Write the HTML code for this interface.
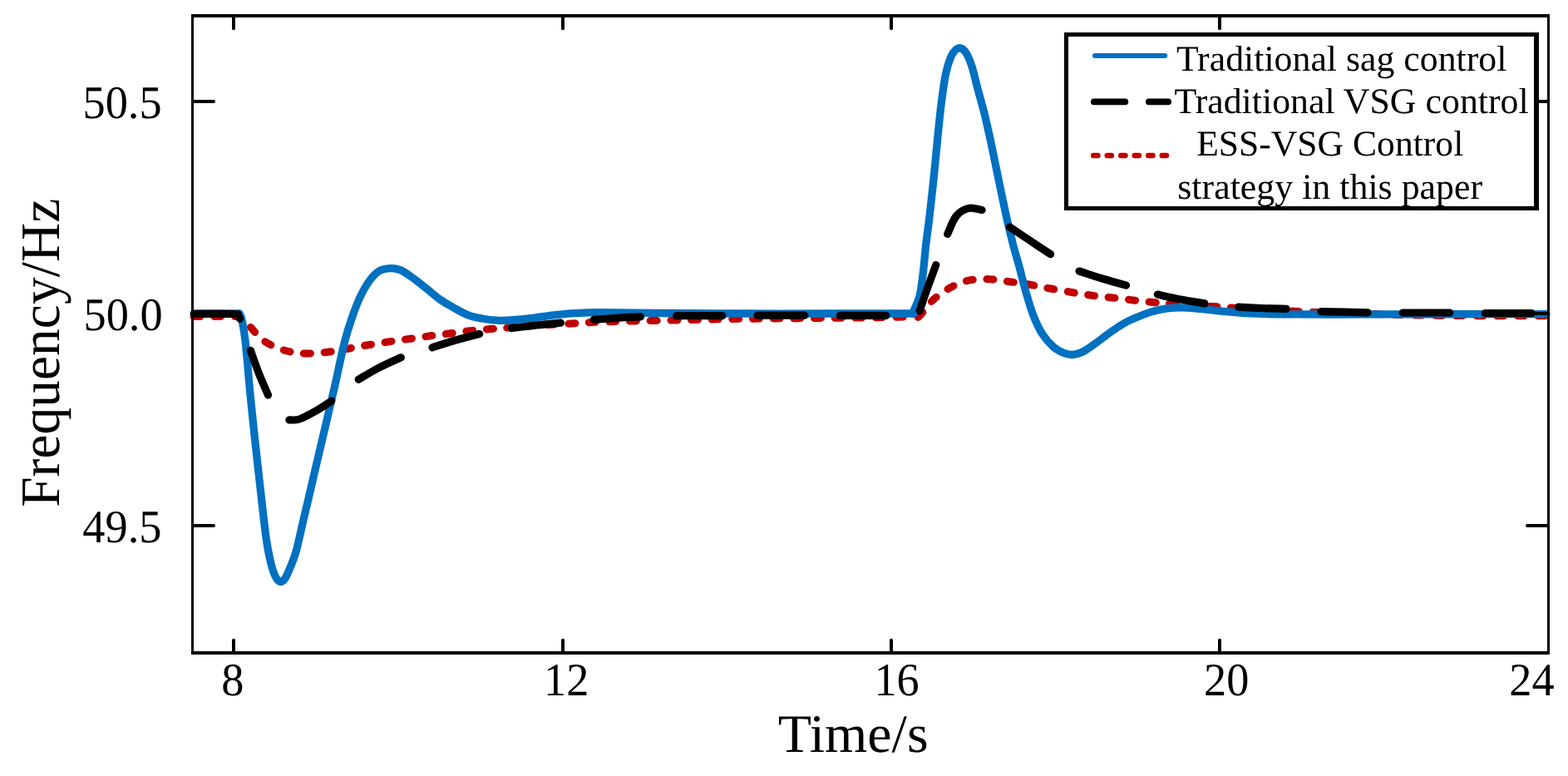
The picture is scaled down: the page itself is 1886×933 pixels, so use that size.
<!DOCTYPE html>
<html lang="en">
<head>
<meta charset="utf-8">
<title>Frequency response comparison</title>
<style>
html,body{margin:0;padding:0;background:#fff;}
body{width:1886px;height:933px;overflow:hidden;}
svg{display:block;}
text{font-family:"Liberation Serif","Times New Roman",serif;fill:#000;text-rendering:geometricPrecision;}
.tick{font-size:55px;}
.axl{font-size:65px;}
.leg{font-size:43.4px;}
</style>
</head>
<body>
<svg width="1886" height="933" viewBox="0 0 1886 933">
<rect x="0" y="0" width="1886" height="933" fill="#ffffff"/>

<g fill="none" stroke-linecap="round" stroke-linejoin="round">
<path d="M233.0 380.5 C237.5 380.5 251.7 380.5 260.0 380.5 C268.3 380.5 277.7 380.2 283.0 380.5 C288.3 380.8 288.8 380.2 292.0 382.5 C295.2 384.8 298.2 389.8 302.0 394.0 C305.8 398.2 309.8 404.0 315.0 408.0 C320.2 412.0 326.8 415.4 333.0 418.0 C339.2 420.6 345.5 422.3 352.0 423.5 C358.5 424.7 364.0 425.2 372.0 425.0 C380.0 424.8 391.8 423.6 400.0 422.5 C408.2 421.4 414.2 420.0 421.4 418.7 C428.5 417.4 435.3 416.1 442.9 414.8 C450.5 413.5 458.8 412.2 466.9 411.0 C475.0 409.8 483.5 408.7 491.8 407.5 C500.1 406.3 508.5 405.1 516.6 404.0 C524.7 402.9 532.5 402.1 540.6 401.0 C548.8 399.9 557.4 398.6 565.5 397.7 C573.6 396.8 581.6 396.2 589.5 395.6 C597.4 395.0 602.6 394.7 612.7 393.9 C622.8 393.1 637.5 391.8 650.0 391.0 C662.5 390.2 677.7 389.6 688.0 389.0 C698.3 388.4 700.0 388.0 712.0 387.5 C724.0 387.0 742.0 386.4 760.0 386.0 C778.0 385.6 800.0 385.2 820.0 384.8 C840.0 384.4 860.0 383.8 880.0 383.5 C900.0 383.2 920.0 383.0 940.0 382.8 C960.0 382.6 981.7 382.5 1000.0 382.3 C1018.3 382.1 1035.0 382.0 1050.0 381.8 C1065.0 381.6 1081.7 381.1 1090.0 381.0 C1098.3 380.9 1097.3 381.2 1100.0 381.0" stroke="#c00000" stroke-width="9" stroke-dasharray="8 16.65" stroke-dashoffset="0" stroke-linecap="round"/>
<path d="M1100.0 381.0 C1102.7 380.8 1102.3 383.4 1106.0 380.0 C1109.7 376.6 1116.0 366.4 1122.2 360.7 C1128.4 355.0 1136.1 349.6 1143.2 345.7 C1150.3 341.8 1157.2 338.9 1165.0 337.2 C1172.8 335.5 1181.5 335.4 1189.7 335.7 C1197.9 335.9 1205.9 337.6 1214.3 338.7 C1222.7 339.8 1232.0 341.1 1240.0 342.5 C1248.0 343.9 1254.5 345.4 1262.5 346.8 C1270.5 348.2 1279.5 349.8 1287.7 351.2 C1295.9 352.6 1303.7 353.9 1311.7 355.0 C1319.7 356.1 1327.6 356.8 1335.7 357.7 C1343.8 358.6 1352.1 359.7 1360.3 360.6 C1368.5 361.5 1376.8 362.4 1385.0 363.2 C1393.2 364.0 1397.5 364.6 1409.5 365.5 C1421.5 366.4 1444.8 367.6 1456.7 368.3 C1468.6 369.1 1470.2 369.4 1480.7 370.0 C1491.2 370.6 1507.1 371.3 1520.0 372.0 C1532.9 372.7 1548.2 373.8 1557.9 374.3 C1567.7 374.8 1568.2 374.8 1578.5 375.2 C1588.8 375.6 1606.4 376.1 1620.0 376.5 C1633.6 376.9 1642.7 377.3 1660.0 377.8 C1677.3 378.3 1700.7 379.0 1724.0 379.3 C1747.3 379.6 1777.3 379.7 1800.0 379.8 C1822.7 379.9 1850.0 379.8 1860.0 379.8" stroke="#c00000" stroke-width="9" stroke-dasharray="8 16.65" stroke-dashoffset="20.12" stroke-linecap="round"/>
<path d="M233.0 377.0 C237.5 377.0 251.7 377.0 260.0 377.0 C268.3 377.0 278.1 376.5 283.0 377.0 C287.9 377.5 287.5 374.6 289.5 380.0 C291.5 385.4 293.2 394.7 295.0 409.5 C296.8 424.3 298.6 449.1 300.5 469.0 C302.4 488.9 304.5 508.8 306.6 528.6 C308.7 548.4 310.9 568.2 313.2 588.0 C315.5 607.8 318.0 632.4 320.2 647.6 C322.4 662.8 324.4 671.6 326.4 679.4 C328.4 687.2 330.1 691.1 332.0 694.5 C333.9 697.9 335.9 699.5 337.8 699.5 C339.7 699.5 341.5 697.8 343.5 694.5 C345.5 691.2 347.9 685.2 350.0 680.0 C352.1 674.8 353.7 671.7 356.1 663.0 C358.5 654.3 361.6 639.5 364.3 628.0 C367.0 616.5 369.7 605.3 372.3 594.0 C374.9 582.7 377.3 572.3 380.2 560.0 C383.1 547.7 387.2 530.0 389.6 520.0 C392.0 510.0 392.2 509.2 394.3 500.0 C396.4 490.8 399.1 479.8 402.5 465.0 C405.9 450.2 410.9 425.1 414.5 411.0 C418.1 396.9 420.8 389.4 424.0 380.2 C427.2 371.0 430.3 363.0 433.8 355.8 C437.3 348.6 441.2 341.8 445.0 336.8 C448.8 331.8 452.2 328.2 456.3 325.8 C460.4 323.4 465.3 322.9 469.5 322.7 C473.7 322.5 477.4 323.1 481.5 324.7 C485.6 326.3 489.3 329.0 494.3 332.5 C499.3 336.0 505.8 341.2 511.5 345.7 C517.2 350.2 522.9 355.6 528.6 359.6 C534.3 363.7 540.1 366.8 545.8 370.0 C551.5 373.2 557.3 376.6 563.0 378.8 C568.7 381.0 574.4 381.9 580.1 383.0 C585.8 384.1 591.6 384.9 597.3 385.2 C603.0 385.5 607.3 385.5 614.4 385.0 C621.5 384.5 631.5 383.3 640.1 382.3 C648.7 381.3 657.3 379.8 665.9 378.8 C674.5 377.9 682.6 377.1 691.6 376.6 C700.6 376.1 701.9 375.7 720.0 375.7 C738.1 375.7 770.0 376.3 800.0 376.5 C830.0 376.7 866.7 376.9 900.0 377.0 C933.3 377.1 968.3 377.0 1000.0 377.0 C1031.7 377.0 1073.8 377.1 1090.0 377.0 C1106.2 376.9 1095.1 378.0 1097.0 376.5 C1098.9 375.0 1099.9 371.7 1101.5 368.0 C1103.1 364.3 1105.0 361.2 1106.5 354.3 C1108.0 347.4 1109.3 336.4 1110.5 326.4 C1111.7 316.4 1112.5 305.0 1113.7 294.3 C1114.9 283.6 1116.2 275.3 1117.8 262.1 C1119.3 248.9 1121.3 231.1 1123.0 215.0 C1124.7 198.9 1126.2 180.8 1127.8 165.6 C1129.3 150.4 1130.7 136.4 1132.3 123.7 C1133.9 111.0 1135.7 98.2 1137.5 89.2 C1139.3 80.2 1141.3 74.4 1143.3 69.5 C1145.3 64.6 1147.5 61.8 1149.5 59.8 C1151.5 57.8 1153.0 57.2 1155.0 57.8 C1157.0 58.4 1159.5 59.7 1161.8 63.3 C1164.1 66.9 1166.4 72.1 1168.8 79.3 C1171.2 86.5 1173.5 97.5 1175.9 106.5 C1178.3 115.5 1180.8 123.8 1183.3 133.6 C1185.8 143.4 1188.0 153.3 1190.7 165.6 C1193.4 177.9 1196.3 192.8 1199.4 207.6 C1202.5 222.4 1206.0 239.9 1209.2 254.4 C1212.4 268.9 1215.8 283.4 1218.6 294.3 C1221.4 305.2 1223.2 310.4 1225.8 320.0 C1228.4 329.6 1231.4 342.2 1234.3 352.2 C1237.2 362.2 1240.0 371.8 1243.2 380.0 C1246.4 388.2 1249.7 395.2 1253.7 401.4 C1257.7 407.6 1262.9 413.2 1267.0 417.0 C1271.1 420.8 1274.8 422.4 1278.5 424.0 C1282.2 425.6 1285.5 426.7 1289.5 426.5 C1293.5 426.3 1297.6 425.3 1302.3 423.0 C1307.0 420.7 1312.3 416.6 1317.7 412.8 C1323.1 409.0 1329.2 404.0 1334.9 400.0 C1340.6 396.0 1346.3 391.9 1352.0 388.7 C1357.7 385.5 1363.5 383.1 1369.2 380.7 C1374.9 378.3 1380.6 376.1 1386.3 374.5 C1392.0 372.9 1397.8 371.7 1403.5 370.9 C1409.2 370.1 1415.0 369.9 1420.7 369.9 C1426.4 369.9 1431.2 370.3 1437.8 370.9 C1444.4 371.4 1452.1 372.4 1460.1 373.2 C1468.1 374.0 1475.8 374.8 1485.8 375.5 C1495.8 376.2 1508.7 377.0 1520.1 377.4 C1531.5 377.8 1541.1 377.8 1554.4 377.9 C1567.7 378.0 1575.7 378.0 1600.0 378.0 C1624.3 378.0 1666.7 377.9 1700.0 377.8 C1733.3 377.8 1773.3 377.7 1800.0 377.7 C1826.7 377.7 1850.0 377.7 1860.0 377.7" stroke="#0070c0" stroke-width="9.3"/>
<path d="M233.5 377.5 C241.4 377.5 272.2 377.2 281.0 377.5 C289.8 377.8 284.8 378.0 286.0 379.0 C287.2 380.0 288.1 382.6 288.5 383.3" stroke="#000" stroke-width="9.2"/>
<path d="M301.4 421.4 C303.0 425.8 307.5 439.1 311.0 448.0 C314.5 456.9 320.6 470.5 322.5 475.0" stroke="#000" stroke-width="9.2"/>
<path d="M347.9 504.8 C349.9 504.7 354.6 505.8 360.0 504.0 C365.4 502.2 373.6 497.6 380.0 494.0 C386.4 490.4 395.6 484.1 398.7 482.1" stroke="#000" stroke-width="9.2"/>
<path d="M431.2 456.3 C435.3 453.9 447.5 446.4 456.0 442.0 C464.5 437.6 477.9 431.8 482.3 429.8" stroke="#000" stroke-width="9.2"/>
<path d="M520.0 417.8 C524.7 416.3 538.5 411.7 548.0 409.0 C557.5 406.3 571.9 402.8 576.7 401.5" stroke="#000" stroke-width="9.2"/>
<path d="M615.3 394.6 C620.2 394.0 635.1 392.1 645.0 391.0 C654.9 389.9 669.5 388.6 674.4 388.1" stroke="#000" stroke-width="9.2"/>
<path d="M714.3 384.3 C718.9 384.0 732.6 382.9 742.0 382.3 C751.4 381.7 765.8 381.1 770.5 380.9" stroke="#000" stroke-width="9.2"/>
<path d="M813.6 379.7 C822.8 379.7 859.7 379.7 868.9 379.7" stroke="#000" stroke-width="9.2"/>
<path d="M911.1 379.2 C920.5 379.2 958.3 379.2 967.8 379.2" stroke="#000" stroke-width="9.2"/>
<path d="M1010.4 379.4 C1019.6 379.4 1056.5 379.4 1065.7 379.4" stroke="#000" stroke-width="9.2"/>
<path d="M1106.1 373.6 C1107.8 368.8 1112.7 354.2 1116.0 345.0 C1119.3 335.8 1124.2 322.9 1125.8 318.5" stroke="#000" stroke-width="9.2"/>
<path d="M1139.7 281.4 C1141.4 277.8 1145.8 265.2 1150.0 260.0 C1154.2 254.8 1159.8 251.7 1165.0 250.4 C1170.2 249.2 1178.4 252.2 1181.1 252.5" stroke="#000" stroke-width="9.2"/>
<path d="M1214.3 272.9 C1218.6 275.8 1231.8 284.5 1240.0 290.0 C1248.2 295.5 1259.7 303.1 1263.6 305.7" stroke="#000" stroke-width="9.2"/>
<path d="M1298.0 326.0 C1302.7 327.5 1316.6 332.1 1326.0 335.0 C1335.4 337.9 1349.8 341.8 1354.6 343.1" stroke="#000" stroke-width="9.2"/>
<path d="M1392.3 354.1 C1396.9 355.1 1410.5 358.2 1420.0 360.0 C1429.5 361.8 1444.2 364.1 1449.0 364.9" stroke="#000" stroke-width="9.2"/>
<path d="M1489.6 369.2 C1494.3 369.4 1508.4 370.1 1518.0 370.5 C1527.6 370.9 1542.3 371.2 1547.2 371.3" stroke="#000" stroke-width="9.2"/>
<path d="M1589.0 374.6 C1598.3 374.8 1635.7 375.6 1645.0 375.8" stroke="#000" stroke-width="9.2"/>
<path d="M1687.3 376.0 C1696.7 376.0 1734.3 376.0 1743.7 376.0" stroke="#000" stroke-width="9.2"/>
<path d="M1786.3 376.7 C1795.6 376.7 1833.0 376.7 1842.3 376.7" stroke="#000" stroke-width="9.2"/>
</g>
<g stroke="#000" fill="none">
<line x1="230" y1="19" x2="1864" y2="19" stroke-width="4"/>
<line x1="230" y1="785" x2="1864" y2="785" stroke-width="4"/>
<line x1="231.5" y1="17" x2="231.5" y2="787" stroke-width="3"/>
<line x1="1862.5" y1="17" x2="1862.5" y2="787" stroke-width="3"/>
</g>
<g stroke="#000" stroke-linecap="round" fill="none">
<line x1="281" y1="21" x2="281" y2="34.3" stroke-width="4"/>
<line x1="281" y1="783" x2="281" y2="769.7" stroke-width="4"/>
<line x1="677" y1="21" x2="677" y2="34.3" stroke-width="4"/>
<line x1="677" y1="783" x2="677" y2="769.7" stroke-width="4"/>
<line x1="1072" y1="21" x2="1072" y2="34.3" stroke-width="4"/>
<line x1="1072" y1="783" x2="1072" y2="769.7" stroke-width="4"/>
<line x1="1467" y1="21" x2="1467" y2="34.3" stroke-width="4"/>
<line x1="1467" y1="783" x2="1467" y2="769.7" stroke-width="4"/>
<line x1="233" y1="122" x2="257" y2="122" stroke-width="4"/>
<line x1="1861" y1="122" x2="1837" y2="122" stroke-width="4"/>
<line x1="233" y1="377" x2="257" y2="377" stroke-width="4"/>
<line x1="1861" y1="377" x2="1837" y2="377" stroke-width="4"/>
<line x1="233" y1="632" x2="257" y2="632" stroke-width="4"/>
<line x1="1861" y1="632" x2="1837" y2="632" stroke-width="4"/>
</g>
<text transform="translate(99.54 142.40) scale(0.9700 1)" style="font-size:56px">50.5</text>
<text transform="translate(100.54 397.40) scale(0.9700 1)" style="font-size:56px">50.0</text>
<text transform="translate(99.35 652.40) scale(0.9700 1)" style="font-size:56px">49.5</text>
<text transform="translate(266.17 836.00) scale(0.9700 1)" style="font-size:56px">8</text>
<text transform="translate(653.97 836.00) scale(0.9700 1)" style="font-size:56px">12</text>
<text transform="translate(1051.38 836.00) scale(0.9700 1)" style="font-size:56px">16</text>
<text transform="translate(1448.04 836.00) scale(0.9700 1)" style="font-size:56px">20</text>
<text transform="translate(1815.36 836.00) scale(0.9700 1)" style="font-size:56px">24</text>
<text transform="translate(935.69 903.80) scale(1.0149 1)" style="font-size:65px">Time/s</text>
<text transform="translate(70.80 609.82) rotate(-90) scale(1.0077 1.03)" style="font-size:65px">Frequency/Hz</text>

<rect x="1280" y="39" width="571" height="214" fill="#000"/>
<rect x="1285" y="44" width="560" height="204" fill="#fff"/>
<g fill="none" stroke-linecap="round">
<line x1="1317" y1="67" x2="1401.2" y2="67" stroke="#0070c0" stroke-width="6"/>
<line x1="1315.8" y1="122.4" x2="1353.4" y2="122.4" stroke="#000" stroke-width="7.6"/>
<line x1="1381.8" y1="122.4" x2="1405.2" y2="122.4" stroke="#000" stroke-width="7.6"/>
<line x1="1315.2" y1="187" x2="1403" y2="187" stroke="#c00000" stroke-width="6.4" stroke-dasharray="5.3 11.2"/>
</g>
<text transform="translate(1414.89 85.10) scale(1.0097 1)" style="font-size:43.4px">Traditional sag control</text>
<text transform="translate(1412.39 135.60) scale(1.0105 1)" style="font-size:43.4px">Traditional VSG control</text>
<text transform="translate(1439.19 187.00) scale(1.0050 1)" style="font-size:43.4px">ESS-VSG Control</text>
<text transform="translate(1416.28 238.90) scale(1.0114 1)" style="font-size:43.4px">strategy in this paper</text>

</svg>
</body>
</html>
